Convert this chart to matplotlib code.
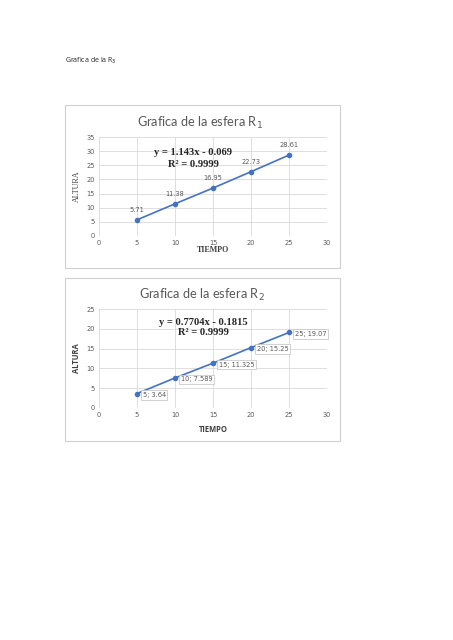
import matplotlib
matplotlib.use("Agg")
import matplotlib.pyplot as plt
from matplotlib.patches import Rectangle

W, H = 453, 640

tiempo = [5, 10, 15, 20, 25]
altura_r1 = [5.71, 11.38, 16.95, 22.73, 28.61]
altura_r2 = [3.64, 7.589, 11.325, 15.25, 19.07]
labels_r1 = ["5.71", "11.38", "16.95", "22.73", "28.61"]
labels_r2 = ["5; 3.64", "10; 7.589", "15; 11.325", "20; 15.25", "25; 19.07"]
xticks = [0, 5, 10, 15, 20, 25, 30]
yticks_r1 = [0, 5, 10, 15, 20, 25, 30, 35]
yticks_r2 = [0, 5, 10, 15, 20, 25]
eq_r1 = ["y = 1.143x - 0.069", "R² = 0.9999"]
eq_r2 = ["y = 0.7704x - 0.1815", "R² = 0.9999"]

BLUE = "#4472C4"
GRID = "#D9D9D9"
TICK = "#595959"

fig = plt.figure(figsize=(W / 100, H / 100), dpi=100)
fig.patch.set_facecolor("white")

def fx(px):
    return px / W

def fy(py):
    return 1 - py / H

def box(x0, y0, x1, y1):
    fig.patches.append(Rectangle((fx(x0), fy(y1)), fx(x1) - fx(x0), fy(y0) - fy(y1),
                                 transform=fig.transFigure, facecolor="white",
                                 edgecolor="#D0D0D0", linewidth=0.8, zorder=0))

def make_axes(x0, y0, x1, y1):
    ax = fig.add_axes([fx(x0), fy(y1), fx(x1) - fx(x0), fy(y0) - fy(y1)])
    ax.set_zorder(3)
    ax.set_facecolor("none")
    for s in ax.spines.values():
        s.set_visible(False)
    ax.tick_params(length=0, labelsize=4.8, colors=TICK, pad=3)
    ax.grid(True, color=GRID, linewidth=0.6)
    ax.set_axisbelow(True)
    return ax

fig.text(fx(65), fy(61), "Grafica de la R$_3$", fontsize=5, family="Open Sans",
         ha="left", va="center", color="#222222")

# Chart 1
box(65, 105, 340, 268)
ax1 = make_axes(99, 137, 327, 236)
ax1.set_xlim(0, 30)
ax1.set_ylim(0, 35)
ax1.set_xticks(xticks)
ax1.set_yticks(yticks_r1)
ax1.plot(tiempo, altura_r1, color=BLUE, linewidth=1.2, marker="o", markersize=3)
for x, y, t in zip(tiempo, altura_r1, labels_r1):
    ax1.annotate(t, (x, y), xytext=(0, 5), textcoords="offset points",
                 ha="center", va="bottom", fontsize=4.8, color=TICK)
ax1.text(12.4, 29.6, eq_r1[0], ha="center", va="center", fontsize=7.6,
         family="Liberation Serif", weight="bold", color="#262626")
ax1.text(12.4, 25.4, eq_r1[1], ha="center", va="center", fontsize=7.6,
         family="Liberation Serif", weight="bold", color="#262626")
ax1.set_xlabel("TIEMPO", fontsize=5.8, family="Liberation Serif", weight="bold",
               color="#404040", labelpad=0)
ax1.set_ylabel("ALTURA", fontsize=5.8, family="Liberation Serif", color="#404040", labelpad=4)
fig.text(fx(200), fy(123), "Grafica de la esfera R$_1$", fontsize=9.2, family="Lato",
         ha="center", va="center", color="#595959")

# Chart 2
box(65, 278, 340, 441)
ax2 = make_axes(99, 309, 327, 408)
ax2.set_xlim(0, 30)
ax2.set_ylim(0, 25)
ax2.set_xticks(xticks)
ax2.set_yticks(yticks_r2)
ax2.plot(tiempo, altura_r2, color=BLUE, linewidth=1.2, marker="o", markersize=3)
for x, y, t in zip(tiempo, altura_r2, labels_r2):
    ax2.annotate(t, (x, y), xytext=(4, -1), textcoords="offset points",
                 ha="left", va="center", fontsize=4.8, color=TICK,
                 bbox=dict(boxstyle="square,pad=0.25", facecolor="white",
                           edgecolor="#BFBFBF", linewidth=0.5))
ax2.text(13.7, 21.7, eq_r2[0], ha="center", va="center", fontsize=7.6,
         family="Liberation Serif", weight="bold", color="#262626")
ax2.text(13.7, 19.0, eq_r2[1], ha="center", va="center", fontsize=7.6,
         family="Liberation Serif", weight="bold", color="#262626")
ax2.set_xlabel("TIEMPO", fontsize=5.5, family="Open Sans", weight="bold",
               color="#404040", labelpad=5)
ax2.set_ylabel("ALTURA", fontsize=5.5, family="Open Sans", weight="bold",
               color="#404040", labelpad=4)
fig.text(fx(202), fy(295), "Grafica de la esfera R$_2$", fontsize=9.2, family="Lato",
         ha="center", va="center", color="#595959")

fig.savefig("out.png", dpi=100, facecolor="white")
